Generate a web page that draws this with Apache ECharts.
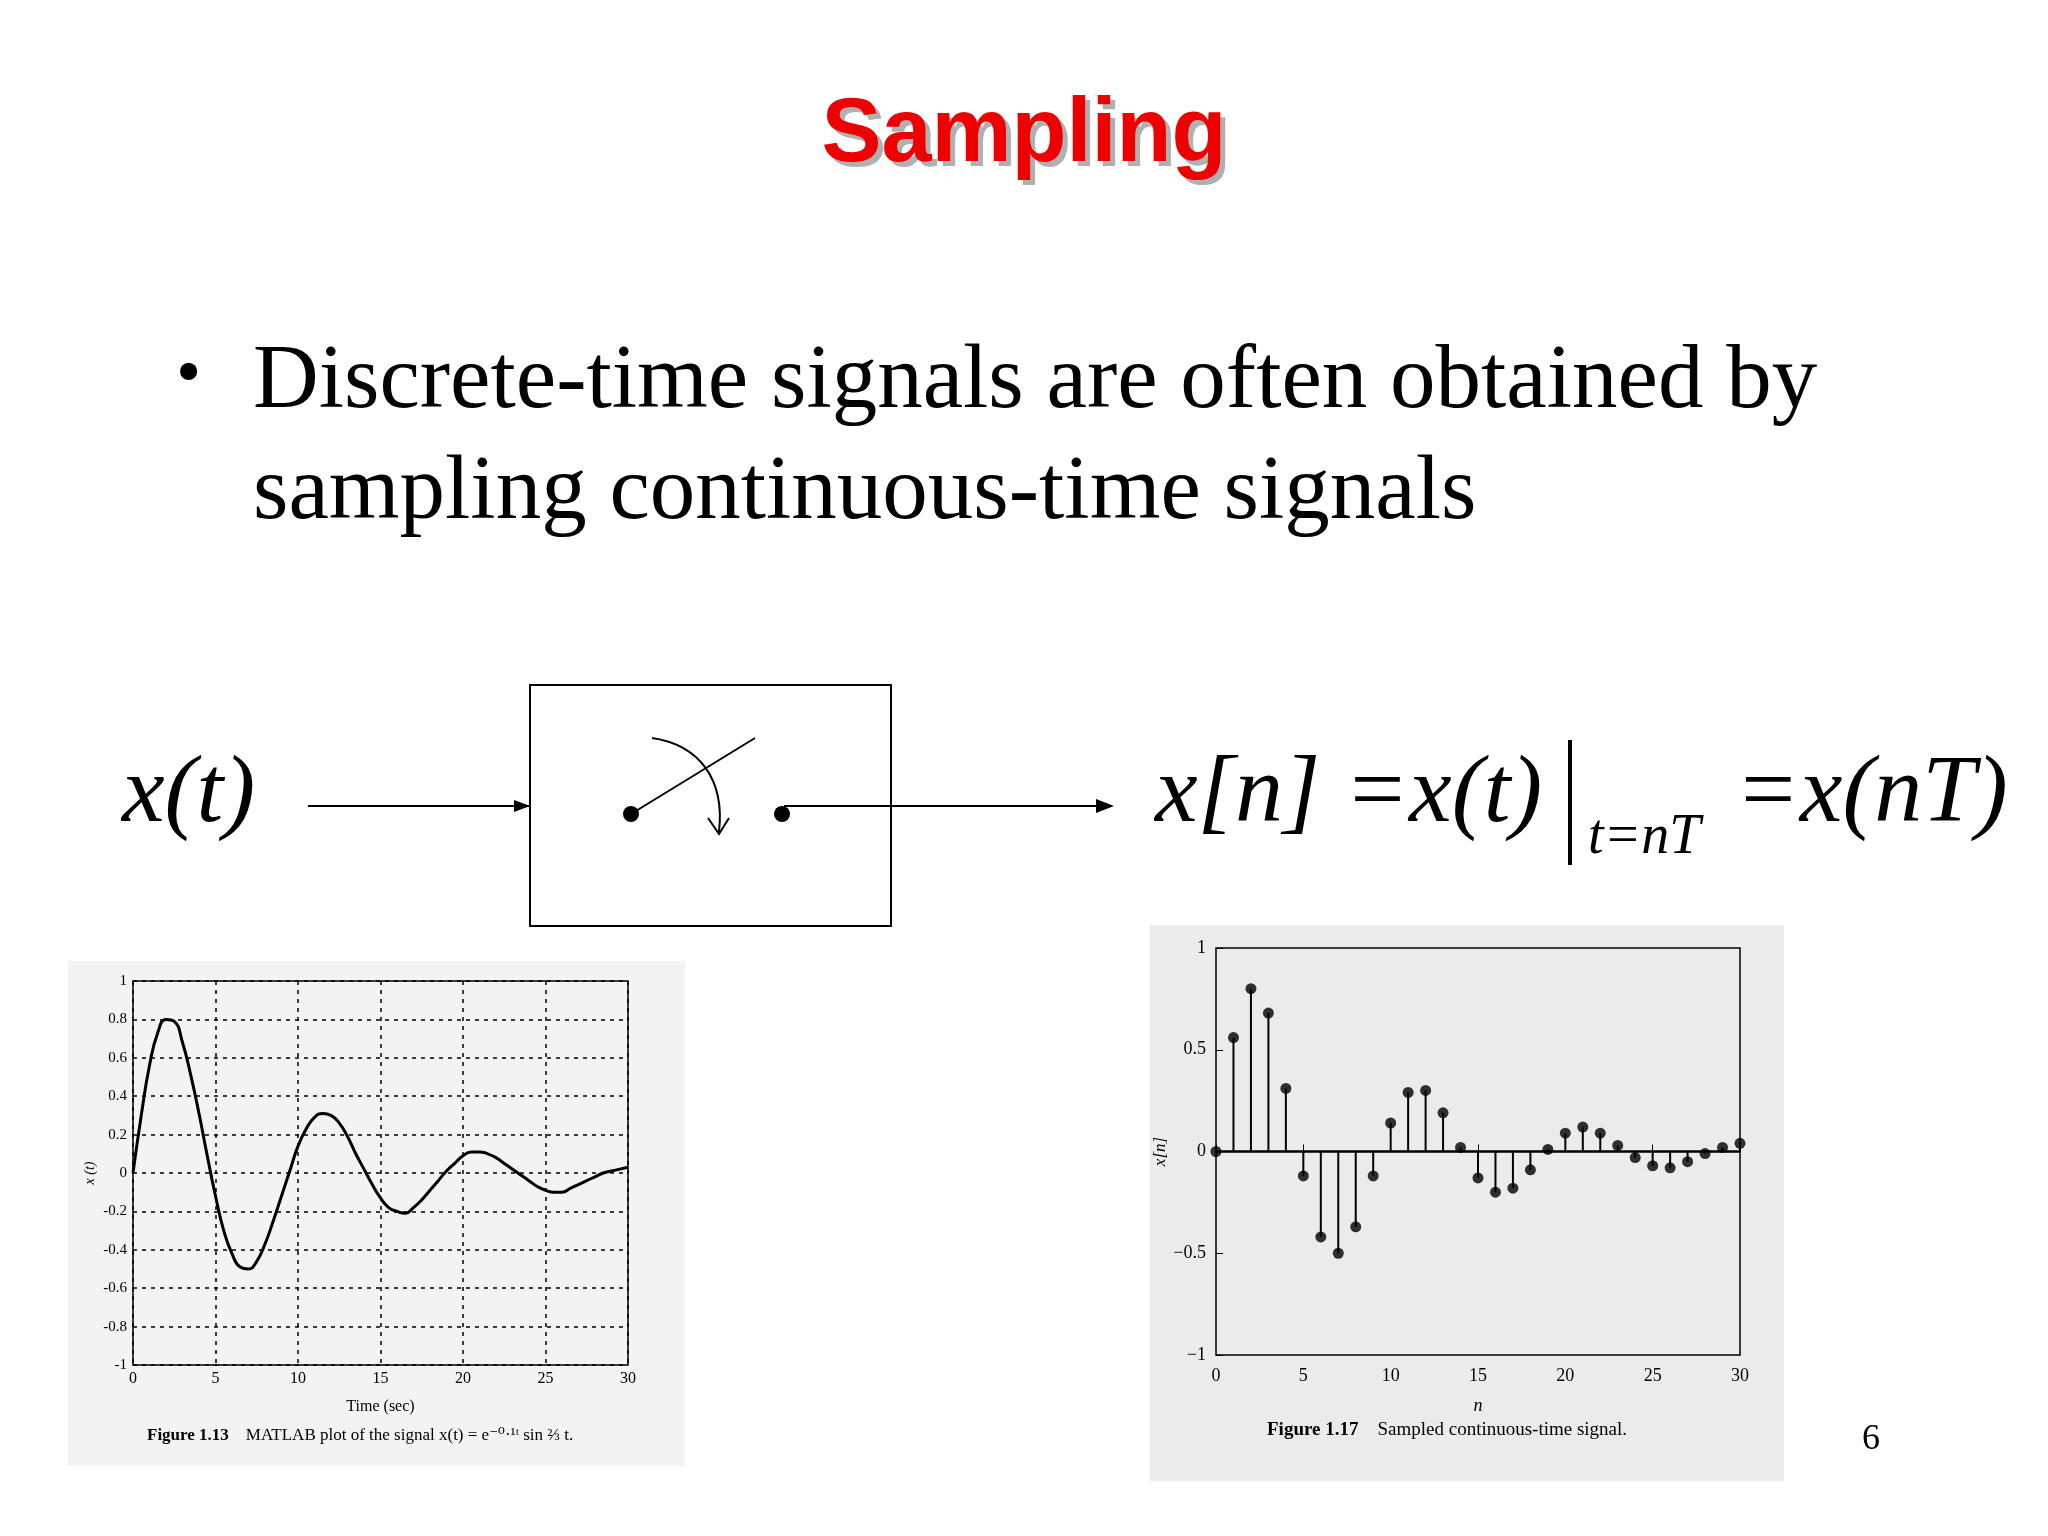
<!DOCTYPE html>
<html><head><meta charset="utf-8">
<script src="https://cdn.jsdelivr.net/npm/echarts@6/dist/echarts.min.js"></script>
<style>html,body{margin:0;padding:0;background:#fff}#c{width:2048px;height:1536px}</style>
</head><body><div id="c"></div>
<script>
const contT = [0,0.5,1,1.5,2,2.5,3,3.5,4,4.5,5,5.5,6,6.5,7,7.5,8,8.5,9,9.5,10,10.5,11,11.5,12,12.5,13,13.5,14,14.5,15,15.5,16,16.5,17,17.5,18,18.5,19,19.5,20,20.5,21,21.5,22,22.5,23,23.5,24,24.5,25,25.5,26,26.5,27,27.5,28,28.5,29,29.5,30];
const contX = [0,0.3,0.56,0.73,0.80,0.79,0.68,0.51,0.31,0.09,-0.12,-0.30,-0.42,-0.49,-0.50,-0.46,-0.37,-0.25,-0.12,0.01,0.14,0.23,0.29,0.31,0.30,0.26,0.19,0.10,0.02,-0.06,-0.13,-0.18,-0.20,-0.21,-0.18,-0.14,-0.09,-0.04,0.01,0.05,0.09,0.11,0.11,0.10,0.08,0.05,0.02,-0.01,-0.04,-0.07,-0.09,-0.10,-0.10,-0.08,-0.06,-0.04,-0.02,0.00,0.01,0.02,0.03];
const sampN = [0,1,2,3,4,5,6,7,8,9,10,11,12,13,14,15,16,17,18,19,20,21,22,23,24,25,26,27,28,29,30];
const sampX = [0,0.56,0.80,0.68,0.31,-0.12,-0.42,-0.50,-0.37,-0.12,0.14,0.29,0.30,0.19,0.02,-0.13,-0.20,-0.18,-0.09,0.01,0.09,0.12,0.09,0.03,-0.03,-0.07,-0.08,-0.05,-0.01,0.02,0.04];

const chart = echarts.init(document.getElementById('c'));
const serif = '"Liberation Serif","DejaVu Serif",serif';
const pairs1 = contT.map((t,i)=>[t,contX[i]]);
const pairs2 = sampN.map((n,i)=>[n,sampX[i]]);
const dash = {show:true,lineStyle:{color:'#000',type:[4,5],width:1.5}};
const titleFont = 'bold 90px "Liberation Sans",Arial,sans-serif';
chart.setOption({
  animation:false,
  graphic:[
    {type:'rect',z:-10,shape:{x:68,y:961,width:617,height:505},style:{fill:'#f3f3f3'}},
    {type:'rect',z:-10,shape:{x:1150,y:925,width:634,height:556},style:{fill:'#ebebeb'}},
    {type:'text',x:1029,y:96,style:{text:'Sampling',font:titleFont,fill:'#b0b0b0',align:'center'}},
    {type:'text',x:1024,y:91,style:{text:'Sampling',font:titleFont,fill:'#ee0000',align:'center'}},
    {type:'text',x:176,y:340,style:{text:'•',font:'72px '+serif,fill:'#000'}},
    {type:'text',x:253,y:338,style:{text:'Discrete-time signals are often obtained by',font:'91px '+serif,fill:'#000'}},
    {type:'text',x:253,y:449,style:{text:'sampling continuous-time signals',font:'91px '+serif,fill:'#000'}},
    {type:'text',x:122,y:748,style:{text:'x(t)',font:'italic 96px '+serif,fill:'#000'}},
    {type:'rect',shape:{x:530,y:685,width:361,height:241},style:{fill:'none',stroke:'#000',lineWidth:2}},
    {type:'line',shape:{x1:308,y1:806,x2:530,y2:806},style:{stroke:'#000',lineWidth:2}},
    {type:'polygon',shape:{points:[[530,806],[514,800],[514,812]]},style:{fill:'#000'}},
    {type:'line',shape:{x1:784,y1:806,x2:1100,y2:806},style:{stroke:'#000',lineWidth:2}},
    {type:'polygon',shape:{points:[[1114,806],[1096,799],[1096,813]]},style:{fill:'#000'}},
    {type:'circle',shape:{cx:631,cy:814,r:8},style:{fill:'#000'}},
    {type:'circle',shape:{cx:782,cy:814,r:8},style:{fill:'#000'}},
    {type:'line',shape:{x1:631,y1:814,x2:755,y2:738},style:{stroke:'#000',lineWidth:2}},
    {type:'bezierCurve',shape:{x1:652,y1:738,cpx1:700,cpy1:745,x2:719,y2:832,cpx2:725,cpy2:780},style:{stroke:'#000',lineWidth:2,fill:'none'}},
    {type:'polyline',shape:{points:[[708,818],[719,834],[729,818]]},style:{stroke:'#000',lineWidth:2}},
    {type:'text',x:1155,y:748,style:{text:'x[n] =x(t)',font:'italic 96px '+serif,fill:'#000'}},
    {type:'line',shape:{x1:1570,y1:740,x2:1570,y2:865},style:{stroke:'#000',lineWidth:4}},
    {type:'text',x:1588,y:810,style:{text:'t=nT',font:'italic 56px '+serif,fill:'#000'}},
    {type:'text',x:1735,y:748,style:{text:'=x(nT)',font:'italic 96px '+serif,fill:'#000'}},
    {type:'text',x:147,y:1427,style:{rich:{b:{font:'bold 17px '+serif,fill:'#000'},n:{font:'17px '+serif,fill:'#000'}},text:'{b|Figure 1.13}{n|    MATLAB plot of the signal x(t) = e⁻⁰·¹ᵗ sin ⅔ t.}'}},
    {type:'text',x:1267,y:1421,style:{rich:{b:{font:'bold 19px '+serif,fill:'#000'},n:{font:'19px '+serif,fill:'#000'}},text:'{b|Figure 1.17}{n|    Sampled continuous-time signal.}'}},
    {type:'text',x:1862,y:1422,style:{text:'6',font:'36px '+serif,fill:'#000'}}
  ],
  grid:[
    {left:133,top:981,width:495,height:384,show:true,borderColor:'#000',borderWidth:1.5,backgroundColor:'transparent'},
    {left:1216,top:948,width:524,height:407,show:true,borderColor:'#000',borderWidth:1.5,backgroundColor:'transparent'}
  ],
  xAxis:[
    {gridIndex:0,type:'value',min:0,max:30,interval:5,axisLine:{show:false},axisTick:{show:false},splitLine:dash,
     name:'Time (sec)',nameLocation:'middle',nameGap:34,nameTextStyle:{fontFamily:serif,fontSize:16,color:'#000'},
     axisLabel:{fontFamily:serif,fontSize:16,color:'#000',margin:6}},
    {gridIndex:1,type:'value',min:0,max:30,interval:5,axisLine:{show:false},axisTick:{show:true,inside:true,length:7,lineStyle:{color:'#000'}},splitLine:{show:false},
     name:'n',nameLocation:'middle',nameGap:42,nameTextStyle:{fontFamily:serif,fontSize:18,fontStyle:'italic',color:'#000'},
     axisLabel:{fontFamily:serif,fontSize:18,color:'#000',margin:12}}
  ],
  yAxis:[
    {gridIndex:0,type:'value',min:-1,max:1,interval:0.2,axisLine:{show:false},axisTick:{show:false},splitLine:dash,
     name:'x (t)',nameLocation:'middle',nameGap:36,nameTextStyle:{fontFamily:serif,fontSize:14,fontStyle:'italic',color:'#000'},
     axisLabel:{fontFamily:serif,fontSize:15,color:'#000',margin:6,formatter:v=>String(Math.round(v*10)/10)}},
    {gridIndex:1,type:'value',min:-1,max:1,interval:0.5,axisLine:{show:false},axisTick:{show:true,inside:true,length:7,lineStyle:{color:'#000'}},splitLine:{show:false},
     name:'x[n]',nameLocation:'middle',nameGap:36,nameTextStyle:{fontFamily:serif,fontSize:17,fontStyle:'italic',color:'#000'},
     axisLabel:{fontFamily:serif,fontSize:18,color:'#000',margin:10,formatter:v=>v<0?'−'+(-v):String(v)}}
  ],
  series:[
    {type:'line',xAxisIndex:0,yAxisIndex:0,data:pairs1,smooth:0.5,symbol:'none',lineStyle:{color:'#000',width:3}},
    {type:'line',xAxisIndex:1,yAxisIndex:1,data:[[0,0],[30,0]],symbol:'none',lineStyle:{color:'#000',width:2.5},silent:true},
    {type:'bar',xAxisIndex:1,yAxisIndex:1,data:pairs2,barWidth:2,itemStyle:{color:'#000'}},
    {type:'scatter',xAxisIndex:1,yAxisIndex:1,data:pairs2,symbolSize:11,itemStyle:{color:'#000'}}
  ]
});
</script></body></html>
